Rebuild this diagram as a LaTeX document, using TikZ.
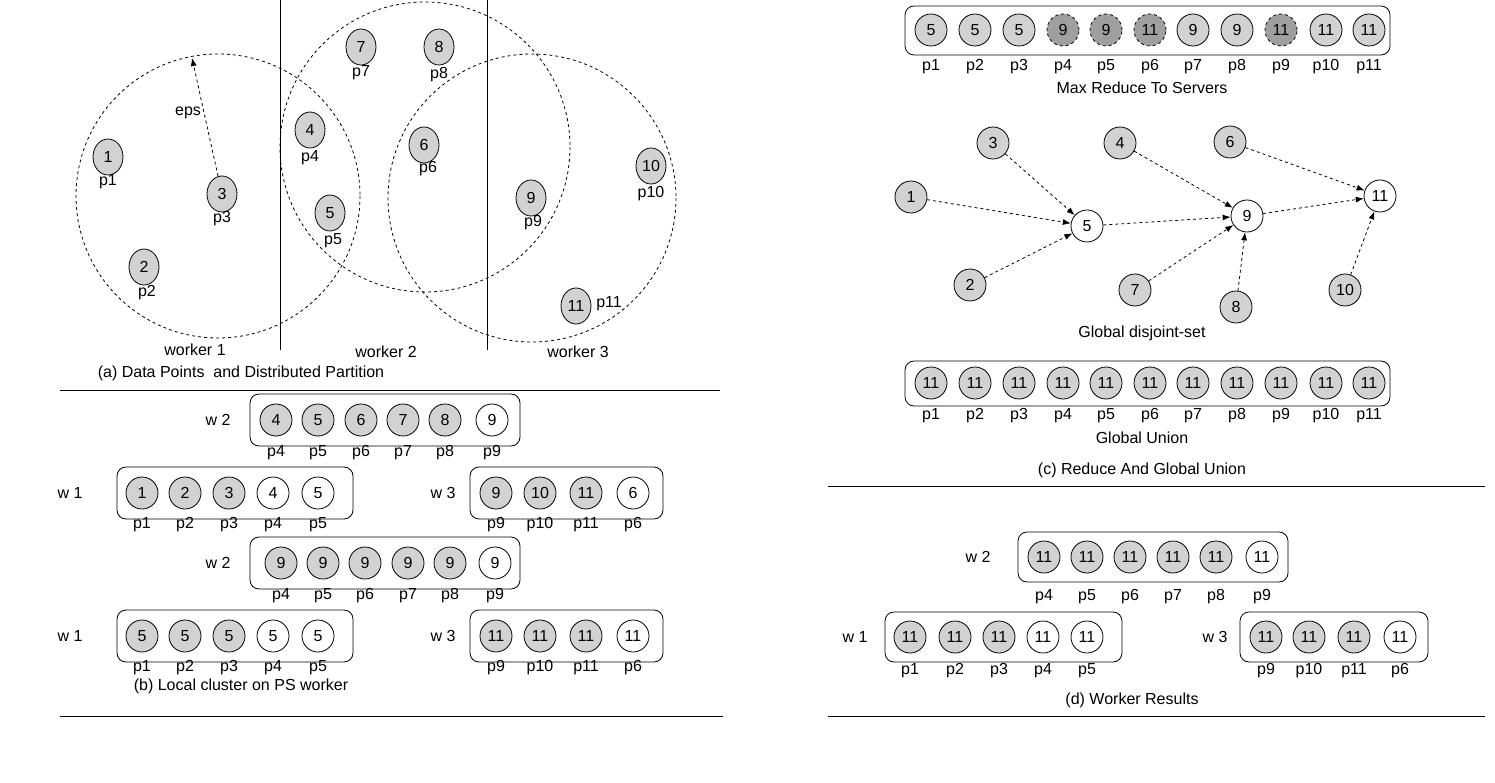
\documentclass[tikz,border=0pt]{standalone}
\usepackage{fontspec}
\setmainfont{Liberation Sans}
\usetikzlibrary{shapes.geometric,arrows.meta}
\begin{document}
\begin{tikzpicture}[x=1pt,y=-1pt,font=\fontsize{16}{18}\selectfont,line width=0.8pt,
 pt/.style={ellipse,draw,fill=gray!35,minimum width=30,minimum height=36,inner sep=0},
 cg/.style={circle,draw,fill=gray!35,minimum size=32,inner sep=0},
 cw/.style={circle,draw,fill=white,minimum size=32,inner sep=0},
 cd/.style={circle,draw,dashed,fill=gray!75,minimum size=32,inner sep=0},
 box/.style={draw,rounded corners=9},
 dl/.style={dashed,-{Latex[length=8pt,width=6pt]}},
 rule/.style={line width=0.8pt}]
\useasboundingbox (0,0) rectangle (1495,783);
% (a)
\draw[dashed] (218,196) circle (142);
\draw[dashed] (425,147) circle (145);
\draw[dashed] (532,198) circle (144);
\draw (280,0) -- (280,350);
\draw (487,0) -- (487,350);
\foreach \n/\x/\y/\lx/\ly in {1/108/157/108/182,3/222/194/222/219,2/144/267/147/293,4/310/130/310/158,5/330/213/333/241,7/361/47/361/73,8/439/47/439/75,6/424/145/428/169,9/531/198/533/223,10/651/166/651/194}
 {\node[pt] (a\n) at (\x,\y) {\n}; \node (la\n) at (\lx,\ly) {p\n};}
\node[pt] (a11) at (576,306) {11};
\node (la11) at (609,304) {p11};
\coordinate (epsend) at (192,58);
\draw[dl] (a3) -- (epsend);
\node (eps) at (188,113) {eps};
\node (w1) at (195,350) {worker 1};
\node (w2) at (386,352) {worker 2};
\node (w3) at (578,352) {worker 3};
\node (capa) at (241,373) {(a) Data Points\ \ and Distributed Partition};
\draw[rule] (60,390) -- (720,390);
% (b)
\draw[box] (250,394) rectangle (520,446);
\node (bw2a) at (218,420) {w 2};
\foreach \i/\x/\v/\s in {4/276/4/cg,5/318/5/cg,6/361/6/cg,7/403/7/cg,8/445/8/cg,9/492/9/cw}
 {\node[\s] (b1\i) at (\x,420) {\v}; \node (bl1\i) at (\x,453) {p\i};}
\draw[box] (117,467) rectangle (353,519);
\node (bw1a) at (70,493) {w 1};
\foreach \i/\x/\v/\s in {1/142/1/cg,2/185/2/cg,3/229/3/cg,4/273/4/cw,5/318/5/cw}
 {\node[\s] (b2\i) at (\x,493) {\v}; \node (bl2\i) at (\x,525) {p\i};}
\draw[box] (470,467) rectangle (663,519);
\node (bw3a) at (443,493) {w 3};
\foreach \i/\x/\v/\s in {9/496/9/cg,10/540/10/cg,11/586/11/cg,6/633/6/cw}
 {\node[\s] (b3\i) at (\x,493) {\v}; \node (bl3\i) at (\x,525) {p\i};}
\draw[box] (250,537) rectangle (520,589);
\node (bw2b) at (218,563) {w 2};
\foreach \i/\x/\v/\s in {4/281/9/cg,5/323/9/cg,6/365/9/cg,7/408/9/cg,8/450/9/cg,9/495/9/cw}
 {\node[\s] (b4\i) at (\x,563) {\v}; \node (bl4\i) at (\x,596) {p\i};}
\draw[box] (117,610) rectangle (353,662);
\node (bw1b) at (70,636) {w 1};
\foreach \i/\x/\v/\s in {1/142/5/cg,2/185/5/cg,3/229/5/cg,4/273/5/cw,5/318/5/cw}
 {\node[\s] (b5\i) at (\x,636) {\v}; \node (bl5\i) at (\x,668) {p\i};}
\draw[box] (470,610) rectangle (663,662);
\node (bw3b) at (443,636) {w 3};
\foreach \i/\x/\v/\s in {9/496/11/cg,10/540/11/cg,11/586/11/cg,6/633/11/cw}
 {\node[\s] (b6\i) at (\x,636) {\v}; \node (bl6\i) at (\x,668) {p\i};}
\node (capb) at (241,686) {(b) Local cluster on PS worker};
\draw[rule] (60,716) -- (723,716);
% (c)
\draw[box] (905,6) rectangle (1390,55);
\foreach \i/\x/\v/\s in {1/931/5/cg,2/975/5/cg,3/1019/5/cg,4/1063/9/cd,5/1106/9/cd,6/1150/11/cd,7/1193/9/cg,8/1237/9/cg,9/1281/11/cd,10/1326/11/cg,11/1369/11/cg}
 {\node[\s] (c1\i) at (\x,30) {\v}; \node (cl1\i) at (\x,67) {p\i};}
\node (capmr) at (1142,88) {Max Reduce To Servers};
\foreach \n/\x/\y in {1/911/197,3/993/143,2/970/285,4/1120/143,7/1135/290,8/1236/307,6/1230/142,10/1345/290}
 \node[cg] (g\n) at (\x,\y) {\n};
\node[cw] (g5) at (1087,226) {5};
\node[cw] (g9) at (1247,216) {9};
\node[cw] (g11) at (1380,196) {11};
\foreach \a/\b in {1/5,3/5,2/5,5/9,4/9,7/9,8/9,9/11,6/11,10/11}
 \draw[dl] (g\a) -- (g\b);
\node (capgd) at (1142,333) {Global disjoint-set};
\draw[box] (905,361) rectangle (1390,406);
\foreach \i/\x in {1/931,2/975,3/1019,4/1063,5/1106,6/1150,7/1193,8/1237,9/1281,10/1326,11/1369}
 {\node[cg] (c2\i) at (\x,383) {11}; \node (cl2\i) at (\x,416) {p\i};}
\node (capgu) at (1142,438) {Global Union};
\node (capc) at (1142,470) {(c) Reduce And Global Union};
\draw[rule] (828,486) -- (1485,486);
% (d)
\draw[box] (1018,532) rectangle (1288,582);
\node (dw2) at (978,557) {w 2};
\foreach \i/\x/\s in {4/1044/cg,5/1087/cg,6/1130/cg,7/1173/cg,8/1216/cg,9/1262/cw}
 {\node[\s] (d1\i) at (\x,557) {11}; \node (dl1\i) at (\x,597) {p\i};}
\draw[box] (885,612) rectangle (1122,662);
\node (dw1) at (855,637) {w 1};
\foreach \i/\x/\s in {1/910/cg,2/955/cg,3/999/cg,4/1043/cw,5/1087/cw}
 {\node[\s] (d2\i) at (\x,637) {11}; \node (dl2\i) at (\x,671) {p\i};}
\draw[box] (1240,612) rectangle (1428,662);
\node (dw3) at (1215,637) {w 3};
\foreach \i/\x/\s in {9/1266/cg,10/1309/cg,11/1354/cg,6/1400/cw}
 {\node[\s] (d3\i) at (\x,637) {11}; \node (dl3\i) at (\x,671) {p\i};}
\node (capd) at (1132,700) {(d) Worker Results};
\draw[rule] (828,716) -- (1485,716);
\end{tikzpicture}
\end{document}
